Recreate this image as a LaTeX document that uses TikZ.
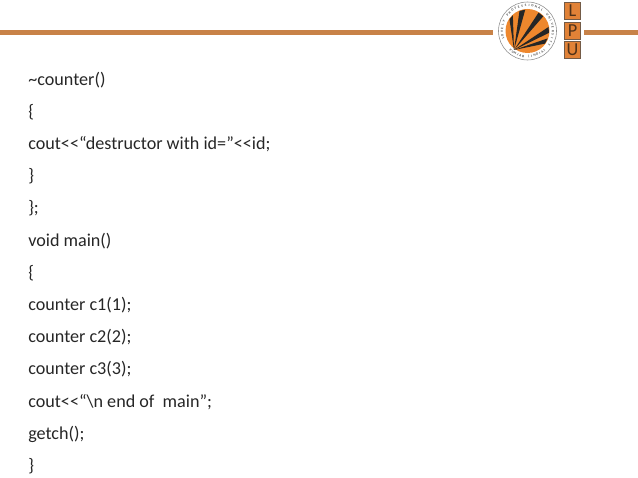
\documentclass[tikz,border=0pt]{standalone}
\usepackage{fontspec}
\setmainfont{Carlito}
\definecolor{barorange}{RGB}{200,130,72}
\definecolor{discorange}{RGB}{238,135,45}
\definecolor{boxfill}{RGB}{225,130,55}
\definecolor{boxtext}{RGB}{80,50,25}
\tikzset{
    codeline/.style={anchor=base west,inner sep=0pt,font=\fontsize{12.9pt}{15pt}\selectfont,text=black!85},
    lpubox/.style={draw=boxtext!80!white,fill=boxfill,line width=0.6pt,minimum width=0.41cm,minimum height=0.41cm,inner sep=0pt,text=boxtext,font=\fontsize{13pt}{15pt}\selectfont},
    logotext/.style={font=\fontsize{2.4pt}{3pt}\selectfont\bfseries,text=black!70,inner sep=0pt},
}
\begin{document}
\begin{tikzpicture}[x=0.025cm,y=-0.025cm]
\useasboundingbox (0,0) rectangle (638,478);
% header bars
\fill[barorange] (0,30.5) rectangle (493,35.5);
\fill[barorange] (584,30.5) rectangle (638,35.5);
% logo
\draw[black!45,line width=0.4pt] (527.5,31) circle (29);
\fill[discorange] (527.5,31) circle (22);
\foreach \a/\b in {133/147,96/112,43/59,-5/11,-36/-20}{%
    \fill[black!85] (514,50) -- ({527.5+21.5*cos(\a)},{31-21.5*sin(\a)}) -- ({527.5+21.5*cos(\b)},{31-21.5*sin(\b)}) -- cycle;
}
\foreach \ch/\i in {L/1,O/2,V/3,E/4,L/5,Y/6,P/8,R/9,O/10,F/11,E/12,S/13,S/14,I/15,O/16,N/17,A/18,L/19,U/21,N/22,I/23,V/24,E/25,R/26,S/27,I/28,T/29,Y/30}{%
    \pgfmathsetmacro{\ang}{205-\i*7.9}
    \node[logotext,rotate=\ang-90] (topch\i) at ({527.5+25.5*cos(\ang)},{31-25.5*sin(\ang)}) {\ch};
}
\foreach \ch/\i in {P/1,U/2,N/3,J/4,A/5,B/6,{(}/8,I/9,N/10,D/11,I/12,A/13,{)}/14}{%
    \pgfmathsetmacro{\ang}{222+\i*6.4}
    \node[logotext,rotate=\ang+90] (botch\i) at ({527.5+25.5*cos(\ang)},{31-25.5*sin(\ang)}) {\ch};
}
% letter boxes
\node[lpubox] (boxl) at (572.5,11) {L};
\node[lpubox] (boxp) at (572.5,31) {P};
\node[lpubox] (boxu) at (572.5,50) {U};
% code
\foreach \t [count=\i] in {\textasciitilde counter(),\{,cout<{}<“destructor with id=”<{}<id;,\},\};,void main(),\{,counter c1(1);,counter c2(2);,counter c3(3);,cout<{}<“\textbackslash n end of\ \ main”;,getch();,\}}{%
    \node[codeline] (line\i) at (28,{52.9+\i*32.2}) {\t};
}
\end{tikzpicture}
\end{document}
